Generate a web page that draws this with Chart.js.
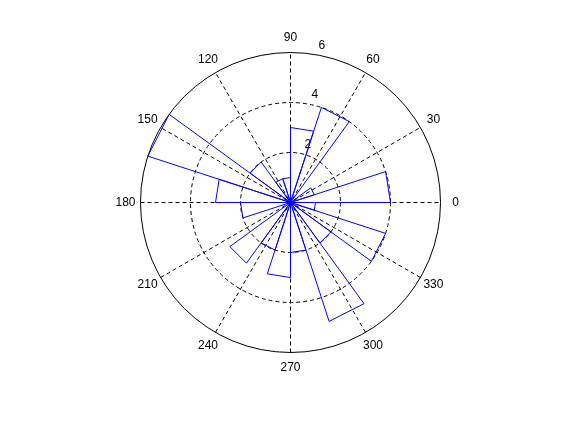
<!doctype html>
<html>
<head>
<meta charset="utf-8">
<title>Rose plot</title>
<script src="https://cdn.jsdelivr.net/npm/chart.js"></script>
<style>
  html, body { margin: 0; padding: 0; background: #fff; }
  canvas { display: block; }
</style>
</head>
<body>
<canvas id="chart" width="561" height="421"></canvas>
<script>
// rose histogram: 20 bins of 18 degrees, counts
const binStartDeg = [0, 18, 36, 54, 72, 90, 108, 126, 144, 162, 180, 198, 216, 234, 252, 270, 288, 306, 324, 342];
const binWidthDeg = 18;
const binCounts = [4, 1, 0, 4, 3, 1, 1, 2, 6, 3, 2, 0, 3, 2, 3, 2, 5, 2, 4, 1];

// polar grid
const ringValues = [2, 4, 6];
const ringLabels = ['2', '4', '6'];
const spokeAngles = [0, 30, 60, 90, 120, 150, 180, 210, 240, 270, 300, 330];
const spokeLabels = ['0', '30', '60', '90', '120', '150', '180', '210', '240', '270', '300', '330'];
const rMax = 6;

const rad = d => d * Math.PI / 180;

// one polyline, like matlab: 0 -> edge1 -> edge2 -> 0 for every bin
const rosePoints = [];
binStartDeg.forEach((a, i) => {
  const r = binCounts[i];
  const a1 = rad(a), a2 = rad(a + binWidthDeg);
  rosePoints.push({ x: 0, y: 0 });
  rosePoints.push({ x: r * Math.cos(a1), y: r * Math.sin(a1) });
  rosePoints.push({ x: r * Math.cos(a2), y: r * Math.sin(a2) });
  rosePoints.push({ x: 0, y: 0 });
});

const polarGrid = {
  id: 'polarGrid',
  beforeDatasetsDraw(chart) {
    const ctx = chart.ctx;
    const xs = chart.scales.x, ys = chart.scales.y;
    const px = v => xs.getPixelForValue(v);
    const py = v => ys.getPixelForValue(v);
    const cx = px(0), cy = py(0);
    const unit = px(1) - px(0);

    ctx.save();
    ctx.strokeStyle = '#000';
    ctx.lineWidth = 1;

    // outer solid circle
    ctx.setLineDash([]);
    ctx.beginPath();
    ctx.arc(cx, cy, rMax * unit, 0, Math.PI * 2);
    ctx.stroke();

    // dashed rings
    ctx.setLineDash([4, 3]);
    ringValues.forEach(v => {
      if (v === rMax) return;
      ctx.beginPath();
      ctx.arc(cx, cy, v * unit, 0, Math.PI * 2);
      ctx.stroke();
    });

    // dashed spokes (through the centre)
    spokeAngles.slice(0, 6).forEach(a => {
      ctx.beginPath();
      ctx.moveTo(px(-rMax * Math.cos(rad(a))), py(-rMax * Math.sin(rad(a))));
      ctx.lineTo(px(rMax * Math.cos(rad(a))), py(rMax * Math.sin(rad(a))));
      ctx.stroke();
    });
    ctx.setLineDash([]);

    ctx.fillStyle = '#000';
    ctx.font = '12px "Liberation Sans", Arial, sans-serif';

    // angle labels
    ctx.textAlign = 'center';
    ctx.textBaseline = 'middle';
    const rt = 1.1 * rMax;
    spokeAngles.forEach((a, i) => {
      ctx.fillText(spokeLabels[i], px(rt * Math.cos(rad(a))), py(rt * Math.sin(rad(a))));
    });

    // ring labels at 82 degrees
    ctx.textAlign = 'left';
    ctx.textBaseline = 'bottom';
    ringValues.forEach((v, i) => {
      const rr = v + 2 / 20;
      ctx.fillText('  ' + ringLabels[i], px(rr * Math.cos(rad(82))), py(rr * Math.sin(rad(82))));
    });
    ctx.restore();
  }
};

new Chart(document.getElementById('chart').getContext('2d'), {
  type: 'scatter',
  data: {
    datasets: [{
      data: rosePoints,
      showLine: true,
      borderColor: '#0000ff',
      borderWidth: 1,
      pointRadius: 0,
      fill: false,
      tension: 0
    }]
  },
  options: {
    responsive: false,
    animation: false,
    devicePixelRatio: 1,
    layout: { padding: { left: 140.5, right: 120.5, top: 52.5, bottom: 68.5 } },
    plugins: { legend: { display: false }, tooltip: { enabled: false } },
    scales: {
      x: { type: 'linear', min: -rMax, max: rMax, display: false },
      y: { type: 'linear', min: -rMax, max: rMax, display: false }
    }
  },
  plugins: [polarGrid]
});
</script>
</body>
</html>
